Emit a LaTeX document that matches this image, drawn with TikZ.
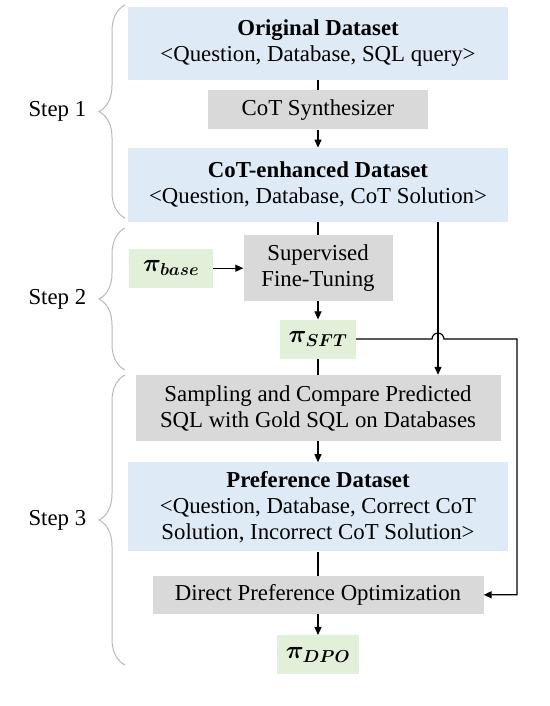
\documentclass[tikz,border=0pt]{standalone}
\usepackage{xcolor}
\usepackage{tikz}
\usepackage{amsmath}
\usepackage{bm}
\usepackage{fontspec}
\setmainfont{Liberation Serif}
\usetikzlibrary{positioning, arrows.meta, decorations.pathreplacing}
\definecolor{dsblue}{HTML}{DEEBF7}
\definecolor{prgray}{HTML}{D9D9D9}
\definecolor{mdgreen}{HTML}{E2F0D9}
\tikzset{
    dataset/.style = {rectangle, fill = dsblue, minimum width = 380pt, align = center, inner sep = 0pt},
    process/.style = {rectangle, fill = prgray, align = center, inner sep = 0pt},
    model/.style = {rectangle, fill = mdgreen, minimum width = 78pt, minimum height = 39pt, inner sep = 0pt, font = \fontsize{25}{28}\selectfont},
    flow/.style = {-{Triangle[length = 8pt, width = 7pt]}, line width = 1.2pt},
    link/.style = {line width = 1.2pt},
    stepbrace/.style = {decorate, decoration = {brace, amplitude = 26pt}, draw = gray!55, line width = 1pt}
}

\begin{document}
\begin{tikzpicture}[font = \fontsize{22.8}{26}\selectfont]
        \useasboundingbox (0, 0) rectangle (549pt, 706pt);
        \node [dataset, minimum height = 73pt] (orig) at (318pt, 662.5pt) {\textbf{Original Dataset}\\<Question, Database, SQL query>};
        \node [process, minimum width = 220pt, minimum height = 39pt, below = 10pt of orig] (synth) {CoT Synthesizer};
        \node [dataset, minimum height = 74pt, below = 18pt of synth] (cot) {\textbf{CoT-enhanced Dataset}\\<Question, Database, CoT Solution>};
        \node [process, minimum width = 149pt, minimum height = 66pt, below = 13pt of cot] (sft) {Supervised\\Fine-Tuning};
        \node [model, minimum width = 84pt, left = 30pt of sft] (base) {$\bm{\pi}_{\bm{base}}$};
        \node [model, minimum width = 76pt, below = 18pt of sft] (pisft) {$\bm{\pi}_{\bm{SFT}}$};
        \node [process, minimum width = 365pt, minimum height = 66pt, below = 16pt of pisft] (sample) {Sampling and Compare Predicted\\SQL with Gold SQL on Databases};
        \node [dataset, minimum height = 89pt, below = 21pt of sample] (pref) {\textbf{Preference Dataset}\\<Question, Database, Correct CoT\\Solution, Incorrect CoT Solution>};
        \node [process, minimum width = 331pt, minimum height = 38pt, below = 24pt of pref] (dpo) {Direct Preference Optimization};
        \node [model, minimum width = 82pt, below = 21pt of dpo] (pidpo) {$\bm{\pi}_{\bm{DPO}}$};
        \coordinate (lane) at (438pt, 0);
        \coordinate (rail) at (517pt, 0);
        \draw [link] (orig) -- (synth);
        \draw [flow] (synth) -- (cot);
        \draw [link] (cot) -- (sft);
        \draw [flow] (base) -- (sft);
        \draw [flow] (sft) -- (pisft);
        \draw [link] (pisft) -- (sample);
        \draw [flow] (cot.south -| lane) -- (sample.north -| lane);
        \draw [flow] (sample) -- (pref);
        \draw [link] (pref) -- (dpo);
        \draw [flow] (dpo) -- (pidpo);
        \draw [flow] (pisft.east) -- ([xshift = -6pt] pisft.east -| lane) arc [start angle = 180, end angle = 0, radius = 6pt] -- (pisft.east -| rail) |- (dpo.east);
        \draw [stepbrace] (125pt, 488pt) -- node [left = 35pt] (s1) {Step 1} (125pt, 701pt);
        \draw [stepbrace] (125pt, 336pt) -- node [left = 35pt] (s2) {Step 2} (125pt, 478pt);
        \draw [stepbrace] (125pt, 41pt) -- node [left = 35pt] (s3) {Step 3} (125pt, 331pt);
    \end{tikzpicture}
\end{document}
